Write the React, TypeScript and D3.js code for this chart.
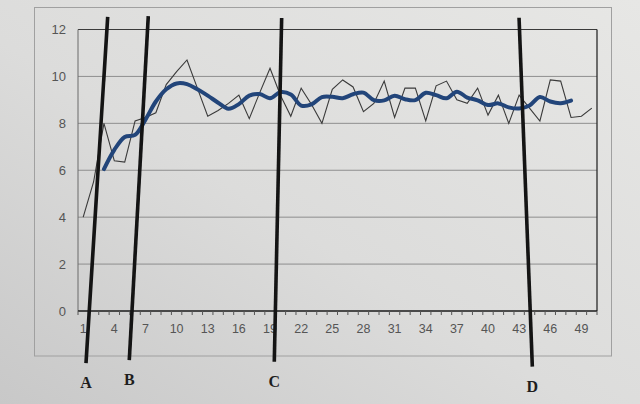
import React from "react";
import * as d3 from "d3";

// ---- data ----
const categories = [
  1, 2, 3, 4, 5, 6, 7, 8, 9, 10, 11, 12, 13, 14, 15, 16, 17, 18, 19, 20, 21, 22, 23, 24, 25,
  26, 27, 28, 29, 30, 31, 32, 33, 34, 35, 36, 37, 38, 39, 40, 41, 42, 43, 44, 45, 46, 47, 48, 49, 50,
];
const observed = [
  4.0, 5.5, 8.0, 6.4, 6.35, 8.1, 8.25, 8.45, 9.65, 10.2,
  10.7, 9.5, 8.3, 8.55, 8.85, 9.2, 8.2, 9.3, 10.35, 9.2,
  8.3, 9.5, 8.8, 8.0, 9.45, 9.85, 9.55, 8.5, 8.85, 9.8,
  8.25, 9.5, 9.5, 8.1, 9.6, 9.8, 9.0, 8.85, 9.5, 8.35,
  9.2, 8.0, 9.2, 8.65, 8.1, 9.85, 9.8, 8.25, 8.3, 8.65,
];
const avgCategories = [
  3, 4, 5, 6, 7, 8, 9, 10, 11, 12, 13, 14, 15, 16, 17, 18, 19, 20, 21, 22, 23, 24, 25,
  26, 27, 28, 29, 30, 31, 32, 33, 34, 35, 36, 37, 38, 39, 40, 41, 42, 43, 44, 45, 46, 47, 48,
];
const avgValues = [
  6.05, 6.87, 7.42, 7.51, 8.16, 8.93, 9.45, 9.7, 9.67, 9.45, 9.18, 8.88, 8.62, 8.82, 9.18,
  9.25, 9.07, 9.33, 9.23, 8.76, 8.81, 9.12, 9.13, 9.07, 9.24, 9.31, 8.99, 8.98, 9.18, 9.03,
  8.99, 9.3, 9.2, 9.07, 9.35, 9.1, 8.98, 8.78, 8.85, 8.68, 8.63, 8.76, 9.12, 8.93, 8.86, 8.97,
];
const yTicks = [0, 2, 4, 6, 8, 10, 12];
const xTickLabels = [1, 4, 7, 10, 13, 16, 19, 22, 25, 28, 31, 34, 37, 40, 43, 46, 49];

// hand-drawn marker lines (category / value at their two ends)
const markerLabels = ["A", "B", "C", "D"];
const markerTopCat = [3.36, 7.27, 20.12, 42.99];
const markerBottomCat = [1.27, 5.44, 19.41, 44.27];
const markerTopVal = [12.54, 12.57, 12.49, 12.5];
const markerBottomVal = [-2.22, -2.09, -2.16, -2.37];

const W = 640;
const H = 404;
const plot = { left: 78, right: 597, top: 29.5, bottom: 311 };

export default function App() {
  const x = d3
    .scaleLinear()
    .domain([0.5, categories.length + 0.5])
    .range([plot.left, plot.right]);
  const y = d3.scaleLinear().domain([0, 12]).range([plot.bottom, plot.top]);

  const thinLine = d3
    .line<number>()
    .x((_, i) => x(categories[i]))
    .y((d) => y(d))
    .curve(d3.curveLinear)(observed);

  const avgLine = d3
    .line<number>()
    .x((_, i) => x(avgCategories[i]))
    .y((d) => y(d))
    .curve(d3.curveCatmullRom.alpha(0.5))(avgValues);

  const boundaries = [...categories.map((c) => c - 0.5), categories[categories.length - 1] + 0.5];

  return (
    <svg
      width={W}
      height={H}
      viewBox={`0 0 ${W} ${H}`}
      style={{ position: "absolute", left: 0, top: 0, display: "block" }}
      fontFamily="'Liberation Sans', Arial, sans-serif"
    >
      <defs>
        <linearGradient id="paper" x1="1" y1="0" x2="0" y2="1">
          <stop offset="0" stopColor="#e7e7e5" />
          <stop offset="0.55" stopColor="#dcdcdb" />
          <stop offset="1" stopColor="#c8c8c8" />
        </linearGradient>
      </defs>
      <rect x={0} y={0} width={W} height={H} fill="url(#paper)" />

      {/* outer chart frame */}
      <rect x={34.5} y={7.5} width={577} height={348.5} fill="none" stroke="#a0a0a0" strokeWidth={1} />

      {/* gridlines */}
      {yTicks
        .filter((t) => t > 0 && t < 12)
        .map((t) => (
          <line
            key={"g" + t}
            x1={plot.left}
            x2={plot.right}
            y1={y(t)}
            y2={y(t)}
            stroke="#8e8e8e"
            strokeWidth={1}
          />
        ))}

      {/* plot frame */}
      <line x1={plot.left} x2={plot.right} y1={y(12)} y2={y(12)} stroke="#3a3a3a" strokeWidth={1.2} />
      <line x1={plot.right} x2={plot.right} y1={y(12)} y2={y(0)} stroke="#2a2a2a" strokeWidth={1.3} />
      <line x1={plot.left} x2={plot.left} y1={y(12)} y2={y(0)} stroke="#6a6a6a" strokeWidth={1} />
      <line x1={plot.left} x2={plot.right} y1={y(0)} y2={y(0)} stroke="#1a1a1a" strokeWidth={1.5} />

      {/* x tick marks */}
      {boundaries.map((b) => (
        <line key={"t" + b} x1={x(b)} x2={x(b)} y1={y(0)} y2={y(0) + 4} stroke="#555" strokeWidth={1} />
      ))}

      {/* y labels */}
      {yTicks.map((t) => (
        <text
          key={"yl" + t}
          x={plot.left - 12}
          y={y(t)}
          dy="0.35em"
          textAnchor="end"
          fontSize={13}
          fill="#555"
        >
          {t}
        </text>
      ))}

      {/* x labels */}
      {xTickLabels.map((c) => (
        <text key={"xl" + c} x={x(c)} y={y(0) + 22} textAnchor="middle" fontSize={12.5} fill="#555">
          {c}
        </text>
      ))}

      {/* observed series */}
      <path d={thinLine || ""} fill="none" stroke="#3a3a3a" strokeWidth={1.1} strokeLinejoin="miter" />

      {/* moving average */}
      <path
        d={avgLine || ""}
        fill="none"
        stroke="#22457a"
        strokeWidth={4}
        strokeLinecap="round"
        strokeLinejoin="round"
      />

      {/* hand-drawn markers */}
      {markerLabels.map((lab, i) => (
        <g key={lab}>
          <line
            x1={x(markerTopCat[i])}
            y1={y(markerTopVal[i])}
            x2={x(markerBottomCat[i])}
            y2={y(markerBottomVal[i])}
            stroke="#141414"
            strokeWidth={3.6}
          />
          <text
            x={x(markerBottomCat[i])}
            y={y(markerBottomVal[i]) + 25}
            textAnchor="middle"
            fontFamily="'Liberation Serif', 'Times New Roman', serif"
            fontWeight="bold"
            fontSize={16}
            fill="#1e1e1e"
          >
            {lab}
          </text>
        </g>
      ))}
    </svg>
  );
}
